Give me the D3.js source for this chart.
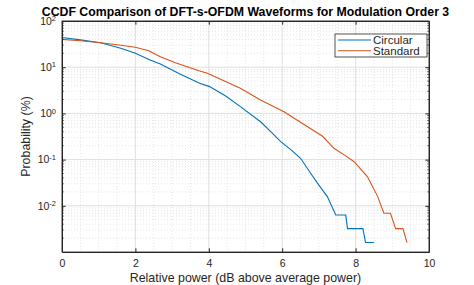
<!DOCTYPE html>
<html>
<head>
<meta charset="utf-8">
<script src="https://cdn.jsdelivr.net/npm/d3@7"></script>
<style>
  body { margin: 0; background: #fff; }
  text { font-family: "Liberation Sans", Arial, sans-serif; fill: #262626; }
</style>
</head>
<body>
<svg class="chart"></svg>
<script>
// relative power (dB) / probability (%)
var circX = [0, 0.5, 1.05, 1.6, 2.0, 2.4, 2.68, 3.2, 3.75, 4.02, 4.45, 4.86, 5.41, 5.68, 5.96, 6.25, 6.5, 6.78, 6.96, 7.23, 7.46, 7.73, 7.78, 8.2, 8.27, 8.5];
var circY = [44, 39, 33.9, 25.6, 20, 14.3, 11.7, 7.2, 4.5, 3.8, 2.4, 1.4, 0.66, 0.41, 0.244, 0.16, 0.107, 0.05, 0.031, 0.0158, 0.0063, 0.0063, 0.0032, 0.0032, 0.0016, 0.0016];

var stdX = [0, 0.5, 1.05, 1.5, 2.0, 2.36, 2.68, 3.09, 3.73, 3.96, 4.5, 4.86, 5.41, 6.05, 6.68, 7.1, 7.41, 7.7, 7.96, 8.32, 8.6, 8.77, 8.95, 9.09, 9.29, 9.4];
var stdY = [40, 37.5, 33.9, 30.5, 27, 22.8, 16.9, 12.5, 8.4, 7.4, 4.7, 3.5, 1.95, 1.09, 0.52, 0.32, 0.176, 0.125, 0.09, 0.043, 0.016, 0.0069, 0.0069, 0.0032, 0.0032, 0.0016];

var seriesNames = ["Circular", "Standard"];
var seriesColors = ["#0072BD", "#D95319"];
var xTicks = [0, 2, 4, 6, 8, 10];
var yTicks = [1e-2, 1e-1, 1e0, 1e1, 1e2];

var W = 474, H = 285;
var margin = {top: 21, right: 45, bottom: 33, left: 62}
    , width = W - margin.left - margin.right
    , height = H - margin.top - margin.bottom;

var x = d3.scaleLinear().domain([0, 10]).range([0, width]);
var y = d3.scaleLog().domain([1e-3, 1e2]).range([height, 0]);

var chart = d3.select('.chart')
    .attr('width', W)
    .attr('height', H);

chart.append('rect').attr('width', W).attr('height', H).attr('fill', '#fff');

var main = chart.append('g')
    .attr('transform', 'translate(' + margin.left + ',' + margin.top + ')');

// minor grid
var xMinor = d3.range(0, 10.01, 0.5).filter(function(d) { return d % 2 !== 0; });
var yMinor = [];
[-3, -2, -1, 0, 1].forEach(function(e) {
  for (var k = 2; k <= 9; k++) yMinor.push(k * Math.pow(10, e));
});

main.append('g').selectAll('line').data(xMinor).enter().append('line')
    .attr('x1', function(d) { return x(d); }).attr('x2', function(d) { return x(d); })
    .attr('y1', 0).attr('y2', height)
    .attr('stroke', '#d4d4d4').attr('stroke-width', 0.6).attr('stroke-dasharray', '1,2');

main.append('g').selectAll('line').data(yMinor).enter().append('line')
    .attr('x1', 0).attr('x2', width)
    .attr('y1', function(d) { return y(d); }).attr('y2', function(d) { return y(d); })
    .attr('stroke', '#d4d4d4').attr('stroke-width', 0.6).attr('stroke-dasharray', '1,2');

// major grid
main.append('g').selectAll('line').data(xTicks).enter().append('line')
    .attr('x1', function(d) { return x(d); }).attr('x2', function(d) { return x(d); })
    .attr('y1', 0).attr('y2', height)
    .attr('stroke', '#dfdfdf').attr('stroke-width', 1);

main.append('g').selectAll('line').data(yTicks).enter().append('line')
    .attr('x1', 0).attr('x2', width)
    .attr('y1', function(d) { return y(d); }).attr('y2', function(d) { return y(d); })
    .attr('stroke', '#dfdfdf').attr('stroke-width', 1);

// curves
var line = d3.line()
    .x(function(d) { return x(d[0]); })
    .y(function(d) { return y(d[1]); });

var series = [d3.zip(circX, circY), d3.zip(stdX, stdY)];

main.append('g').selectAll('path').data(series).enter().append('path')
    .attr('d', line)
    .attr('fill', 'none')
    .attr('stroke', function(d, i) { return seriesColors[i]; })
    .attr('stroke-width', 1.1);

// axes (ticks inward, box on)
var tk = 3.7;
var xAxis = d3.axisBottom(x).tickValues(xTicks).tickSizeInner(-tk).tickSizeOuter(0).tickPadding(8)
    .tickFormat(d3.format('d'));
var gx = main.append('g').attr('transform', 'translate(0,' + height + ')').call(xAxis);
gx.selectAll('text').style('font-size', '10.5px');

main.append('g').call(d3.axisTop(x).tickValues(xTicks).tickSizeInner(-tk).tickSizeOuter(0).tickFormat(''));

var yAxis = d3.axisLeft(y).tickValues(yTicks).tickSizeInner(-tk).tickSizeOuter(0).tickPadding(6)
    .tickFormat('');
var gy = main.append('g').call(yAxis);
gy.selectAll('.tick').append('text')
    .attr('x', -6).attr('dy', '0.32em')
    .attr('text-anchor', 'end')
    .style('font-size', '10.5px')
    .each(function(d) {
      var e = Math.round(Math.log10(d));
      var t = d3.select(this);
      t.append('tspan').text('10');
      t.append('tspan').attr('dy', '-0.5em').style('font-size', '7.5px').text(e);
    });

main.append('g').attr('transform', 'translate(' + width + ',0)')
    .call(d3.axisRight(y).tickValues(yTicks).tickSizeInner(-tk).tickSizeOuter(0).tickFormat(''));

// minor ticks on y axes
main.append('g').selectAll('line').data(yMinor).enter().append('line')
    .attr('x1', 0).attr('x2', 2)
    .attr('y1', function(d) { return y(d); }).attr('y2', function(d) { return y(d); })
    .attr('stroke', '#262626').attr('stroke-width', 0.6);
main.append('g').selectAll('line').data(yMinor).enter().append('line')
    .attr('x1', width).attr('x2', width - 2)
    .attr('y1', function(d) { return y(d); }).attr('y2', function(d) { return y(d); })
    .attr('stroke', '#262626').attr('stroke-width', 0.6);

main.selectAll('.domain, .tick line').attr('stroke', '#262626');

main.append('rect')
    .attr('width', width).attr('height', height)
    .attr('fill', 'none').attr('stroke', '#262626').attr('stroke-width', 0.8);

// labels
main.append('text')
    .attr('x', width / 2).attr('y', height + 30)
    .attr('text-anchor', 'middle')
    .style('font-size', '12.4px')
    .text('Relative power (dB above average power)');

main.append('text')
    .attr('transform', 'rotate(-90)')
    .attr('x', -height / 2).attr('y', -32)
    .attr('text-anchor', 'middle')
    .style('font-size', '12.4px')
    .text('Probability (%)');

main.append('text')
    .attr('x', width / 2).attr('y', -5)
    .attr('text-anchor', 'middle')
    .style('font-size', '12.3px').style('font-weight', 'bold')
    .style('fill', '#000')
    .text('CCDF Comparison of DFT-s-OFDM Waveforms for Modulation Order 3');

// legend
var leg = main.append('g').attr('transform', 'translate(' + (width - 94) + ',13)');
leg.append('rect').attr('width', 92).attr('height', 23)
    .attr('fill', '#fff').attr('stroke', '#262626').attr('stroke-width', 0.8);
var li = leg.selectAll('g.item').data(seriesNames).enter().append('g')
    .attr('transform', function(d, i) { return 'translate(0,' + (6 + i * 10.7) + ')'; });
li.append('line').attr('x1', 3).attr('x2', 36)
    .attr('stroke', function(d, i) { return seriesColors[i]; }).attr('stroke-width', 1.1);
li.append('text').attr('x', 38).attr('dy', '0.35em')
    .style('font-size', '11.5px').text(function(d) { return d; });
</script>
</body>
</html>
